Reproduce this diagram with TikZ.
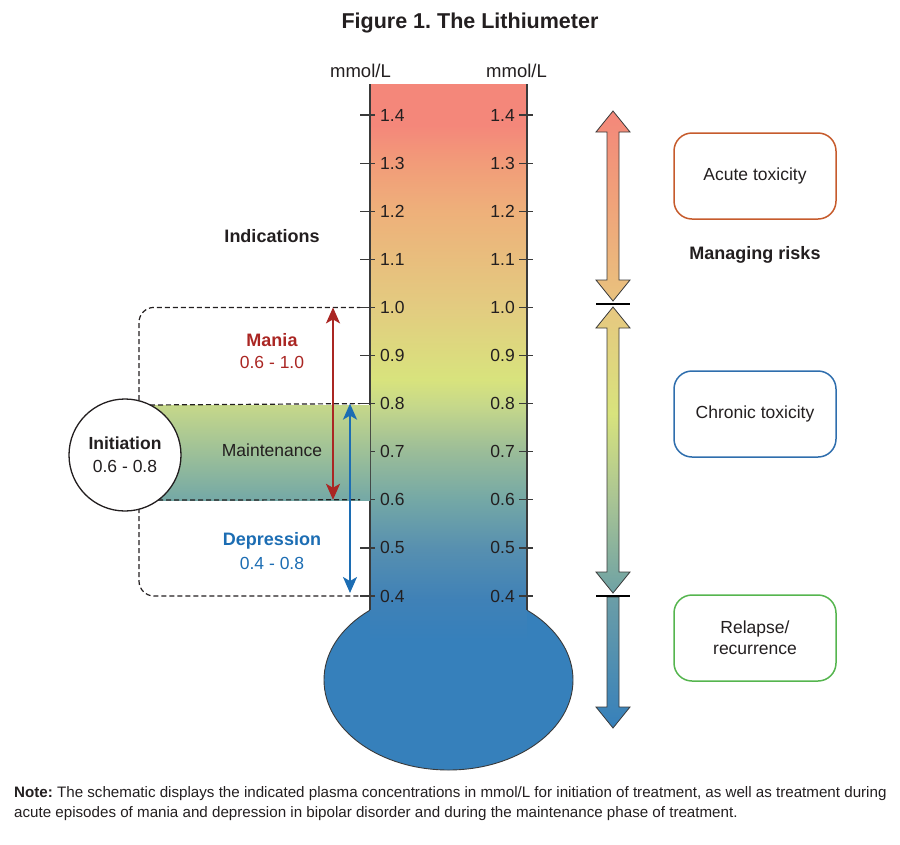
\documentclass[tikz,border=0pt]{standalone}
\usepackage{fontspec}
\setmainfont{Liberation Sans}
\usetikzlibrary{arrows.meta,positioning}
\frenchspacing

\definecolor{ink}{HTML}{231F20}
\definecolor{wallgray}{HTML}{3A3A3A}
\definecolor{bulbblue}{HTML}{3680BB}
\definecolor{t04}{HTML}{3F81B7}
\definecolor{t05}{HTML}{568FB0}
\definecolor{t06}{HTML}{74A8A6}
\definecolor{t07}{HTML}{9CBD98}
\definecolor{t08}{HTML}{C6D88A}
\definecolor{t085}{HTML}{D8E37D}
\definecolor{t10}{HTML}{E3CB80}
\definecolor{t12}{HTML}{EEB07A}
\definecolor{t13}{HTML}{F29B79}
\definecolor{t14}{HTML}{F4877A}
\definecolor{r06}{HTML}{6A9DA7}
\definecolor{r059}{HTML}{70A3A4}
\definecolor{r05}{HTML}{A9C494}
\definecolor{r10}{HTML}{E6C880}
\definecolor{r101}{HTML}{E9C27E}
\definecolor{r12}{HTML}{F0A27A}
\definecolor{maniared}{HTML}{AA2623}
\definecolor{deprblue}{HTML}{1C6DB3}
\definecolor{acutecol}{HTML}{C65B2C}
\definecolor{chroniccol}{HTML}{2F6EAD}
\definecolor{relapsecol}{HTML}{55B54E}

% thermometer colours, bottom (bulb) to top
\pgfdeclareverticalshading{tubeshade}{100bp}{color(0bp)=(bulbblue); color(25bp)=(bulbblue);
  color(28.6bp)=(t04); color(33.1bp)=(t05); color(37.6bp)=(t06); color(42.1bp)=(t07);
  color(46.1bp)=(t08); color(48.4bp)=(t085); color(55.1bp)=(t10); color(63.6bp)=(t12);
  color(68bp)=(t13); color(71.3bp)=(t14); color(75bp)=(t14); color(100bp)=(t14)}
% risk arrows, bottom to top
\pgfdeclareverticalshading{riskshade}{100bp}{color(0bp)=(bulbblue); color(25bp)=(bulbblue);
  color(35.4bp)=(r06); color(36.2bp)=(r059); color(43.5bp)=(r05); color(50.5bp)=(t085);
  color(58.9bp)=(r10); color(59.7bp)=(r101); color(67.8bp)=(r12); color(75bp)=(t14);
  color(100bp)=(t14)}

\tikzset{
  lbl/.style={text=ink, inner sep=0pt, font=\fontsize{17.5}{21}\selectfont},
  hdr/.style={lbl, font=\bfseries\fontsize{18}{21}\selectfont},
  tickmark/.style={draw=wallgray, line width=1.2pt},
  guide/.style={draw=ink, line width=1.2pt, dash pattern=on 5pt off 3pt},
  riskbox/.style={lbl, draw, rectangle, rounded corners=18pt, line width=1.5pt,
    minimum width=162pt, minimum height=86pt, align=center, font=\fontsize{17.5}{21}\selectfont},
  rangearrow/.style={line width=2pt, {Stealth[length=16pt,width=14pt,inset=4pt]}-{Stealth[length=16pt,width=14pt,inset=4pt]}}
}

\begin{document}
\begin{tikzpicture}[x=1pt, y=-1pt]
    \useasboundingbox (0,0) rectangle (900,844);

    \node (title) [lbl, anchor=base, font=\bfseries\fontsize{21.5}{26}\selectfont] at (470,28.5) {Figure 1. The Lithiumeter};

    % thermometer
    \draw[fill=bulbblue, draw=wallgray, line width=0.9pt] (448.5,680) ellipse [x radius=124.5pt, y radius=90pt];
    \shade[shading=tubeshade] (370,84) rectangle (527,640);
    \draw[wallgray, line width=1.2pt] (370,84) -- (370,610.1);
    \draw[wallgray, line width=1.2pt] (527,84) -- (527,610.1);

    \node (unitl) [lbl, anchor=base, font=\fontsize{18.5}{22}\selectfont] at (360.5,77) {mmol/L};
    \node (unitr) [lbl, anchor=base, font=\fontsize{18.5}{22}\selectfont] at (516.5,77) {mmol/L};

    \foreach \v [count=\i from 0] in {0.4,0.5,0.6,0.7,0.8,0.9,1.0,1.1,1.2,1.3,1.4} {
        \coordinate (tk\i) at (360,{596-48.1*\i});
        \draw[tickmark] (360,{596-48.1*\i}) -- (375,{596-48.1*\i});
        \draw[tickmark] (519,{596-48.1*\i}) -- (533,{596-48.1*\i});
        \node (lv\i) [lbl, anchor=west] at (380,{596-48.1*\i}) {\v};
        \node (rv\i) [lbl, anchor=east] at (515,{596-48.1*\i}) {\v};
    }

    % indications
    \node (indic) [hdr] at (272,236) {Indications};
    \shade[top color=t08, bottom color=t06] (150,405) rectangle (370,500);
    \draw[guide] (150,405) -- (tk4);
    \draw[guide] (150,500) -- (tk2);
    \draw[guide, rounded corners=15pt] (139,400) |- (tk6);
    \draw[guide, rounded corners=15pt] (139,508) |- (tk0);
    \node (init) [lbl, circle, draw=ink, fill=white, line width=1.3pt, minimum size=112pt, align=center,
        font=\fontsize{17.5}{23}\selectfont] at (125,455) {\textbf{Initiation}\\0.6 - 0.8};

    \node (mania) [hdr, text=maniared] at (272,340) {Mania};
    \node (maniarange) [lbl, text=maniared, below=9pt of mania] {0.6 - 1.0};
    \node (maint) [lbl] at (272,450) {Maintenance};
    \node (depr) [hdr, text=deprblue] at (272,541) {Depression};
    \node (deprrange) [lbl, text=deprblue, below=7pt of depr] {0.4 - 0.8};

    \coordinate (maniax) at (333,0);
    \coordinate (deprx) at (350,0);
    \draw[rangearrow, maniared] (maniax |- tk6) -- (maniax |- tk2);
    \draw[rangearrow, deprblue] (deprx |- tk4) -- ([yshift=3pt]deprx |- tk0);

    % managing risks
    \begin{scope}
        \clip (613,111) -- (630,132) -- (619,132) -- (619,280) -- (630,280) -- (613,301) -- (596,280) -- (607,280) -- (607,132) -- (596,132) -- cycle
              (613,307) -- (630,328) -- (619,328) -- (619,572) -- (630,572) -- (613,593) -- (596,572) -- (607,572) -- (607,328) -- (596,328) -- cycle
              (607,597) -- (619,597) -- (619,707) -- (630,707) -- (613,728) -- (596,707) -- (607,707) -- cycle;
        \shade[shading=riskshade] (590,111) rectangle (636,728);
    \end{scope}
    \draw[wallgray, line width=0.8pt, line join=miter]
        (613,111) -- (630,132) -- (619,132) -- (619,280) -- (630,280) -- (613,301) -- (596,280) -- (607,280) -- (607,132) -- (596,132) -- cycle
        (613,307) -- (630,328) -- (619,328) -- (619,572) -- (630,572) -- (613,593) -- (596,572) -- (607,572) -- (607,328) -- (596,328) -- cycle
        (607,597) -- (619,597) -- (619,707) -- (630,707) -- (613,728) -- (596,707) -- (607,707) -- cycle;
    \draw[black, line width=1.3pt] (596,304) -- (630,304);
    \draw[black, line width=1.3pt] (596,596) -- (630,596);

    \node (acute) [riskbox, draw=acutecol] at (755,176) {Acute toxicity};
    \node (risks) [hdr] at (755,255) {Managing risks};
    \node (chronic) [riskbox, draw=chroniccol] at (755,414) {Chronic toxicity};
    \node (relapse) [riskbox, draw=relapsecol] at (755,638) {Relapse/\\recurrence};

    \node (note) [lbl, anchor=north west, align=left, font=\fontsize{15.15}{20}\selectfont] at (14,786)
        {\textbf{Note:} The schematic displays the indicated plasma concentrations in mmol/L for initiation of treatment, as well as treatment during\\
         acute episodes of mania and depression in bipolar disorder and during the maintenance phase of treatment.};
\end{tikzpicture}
\end{document}
